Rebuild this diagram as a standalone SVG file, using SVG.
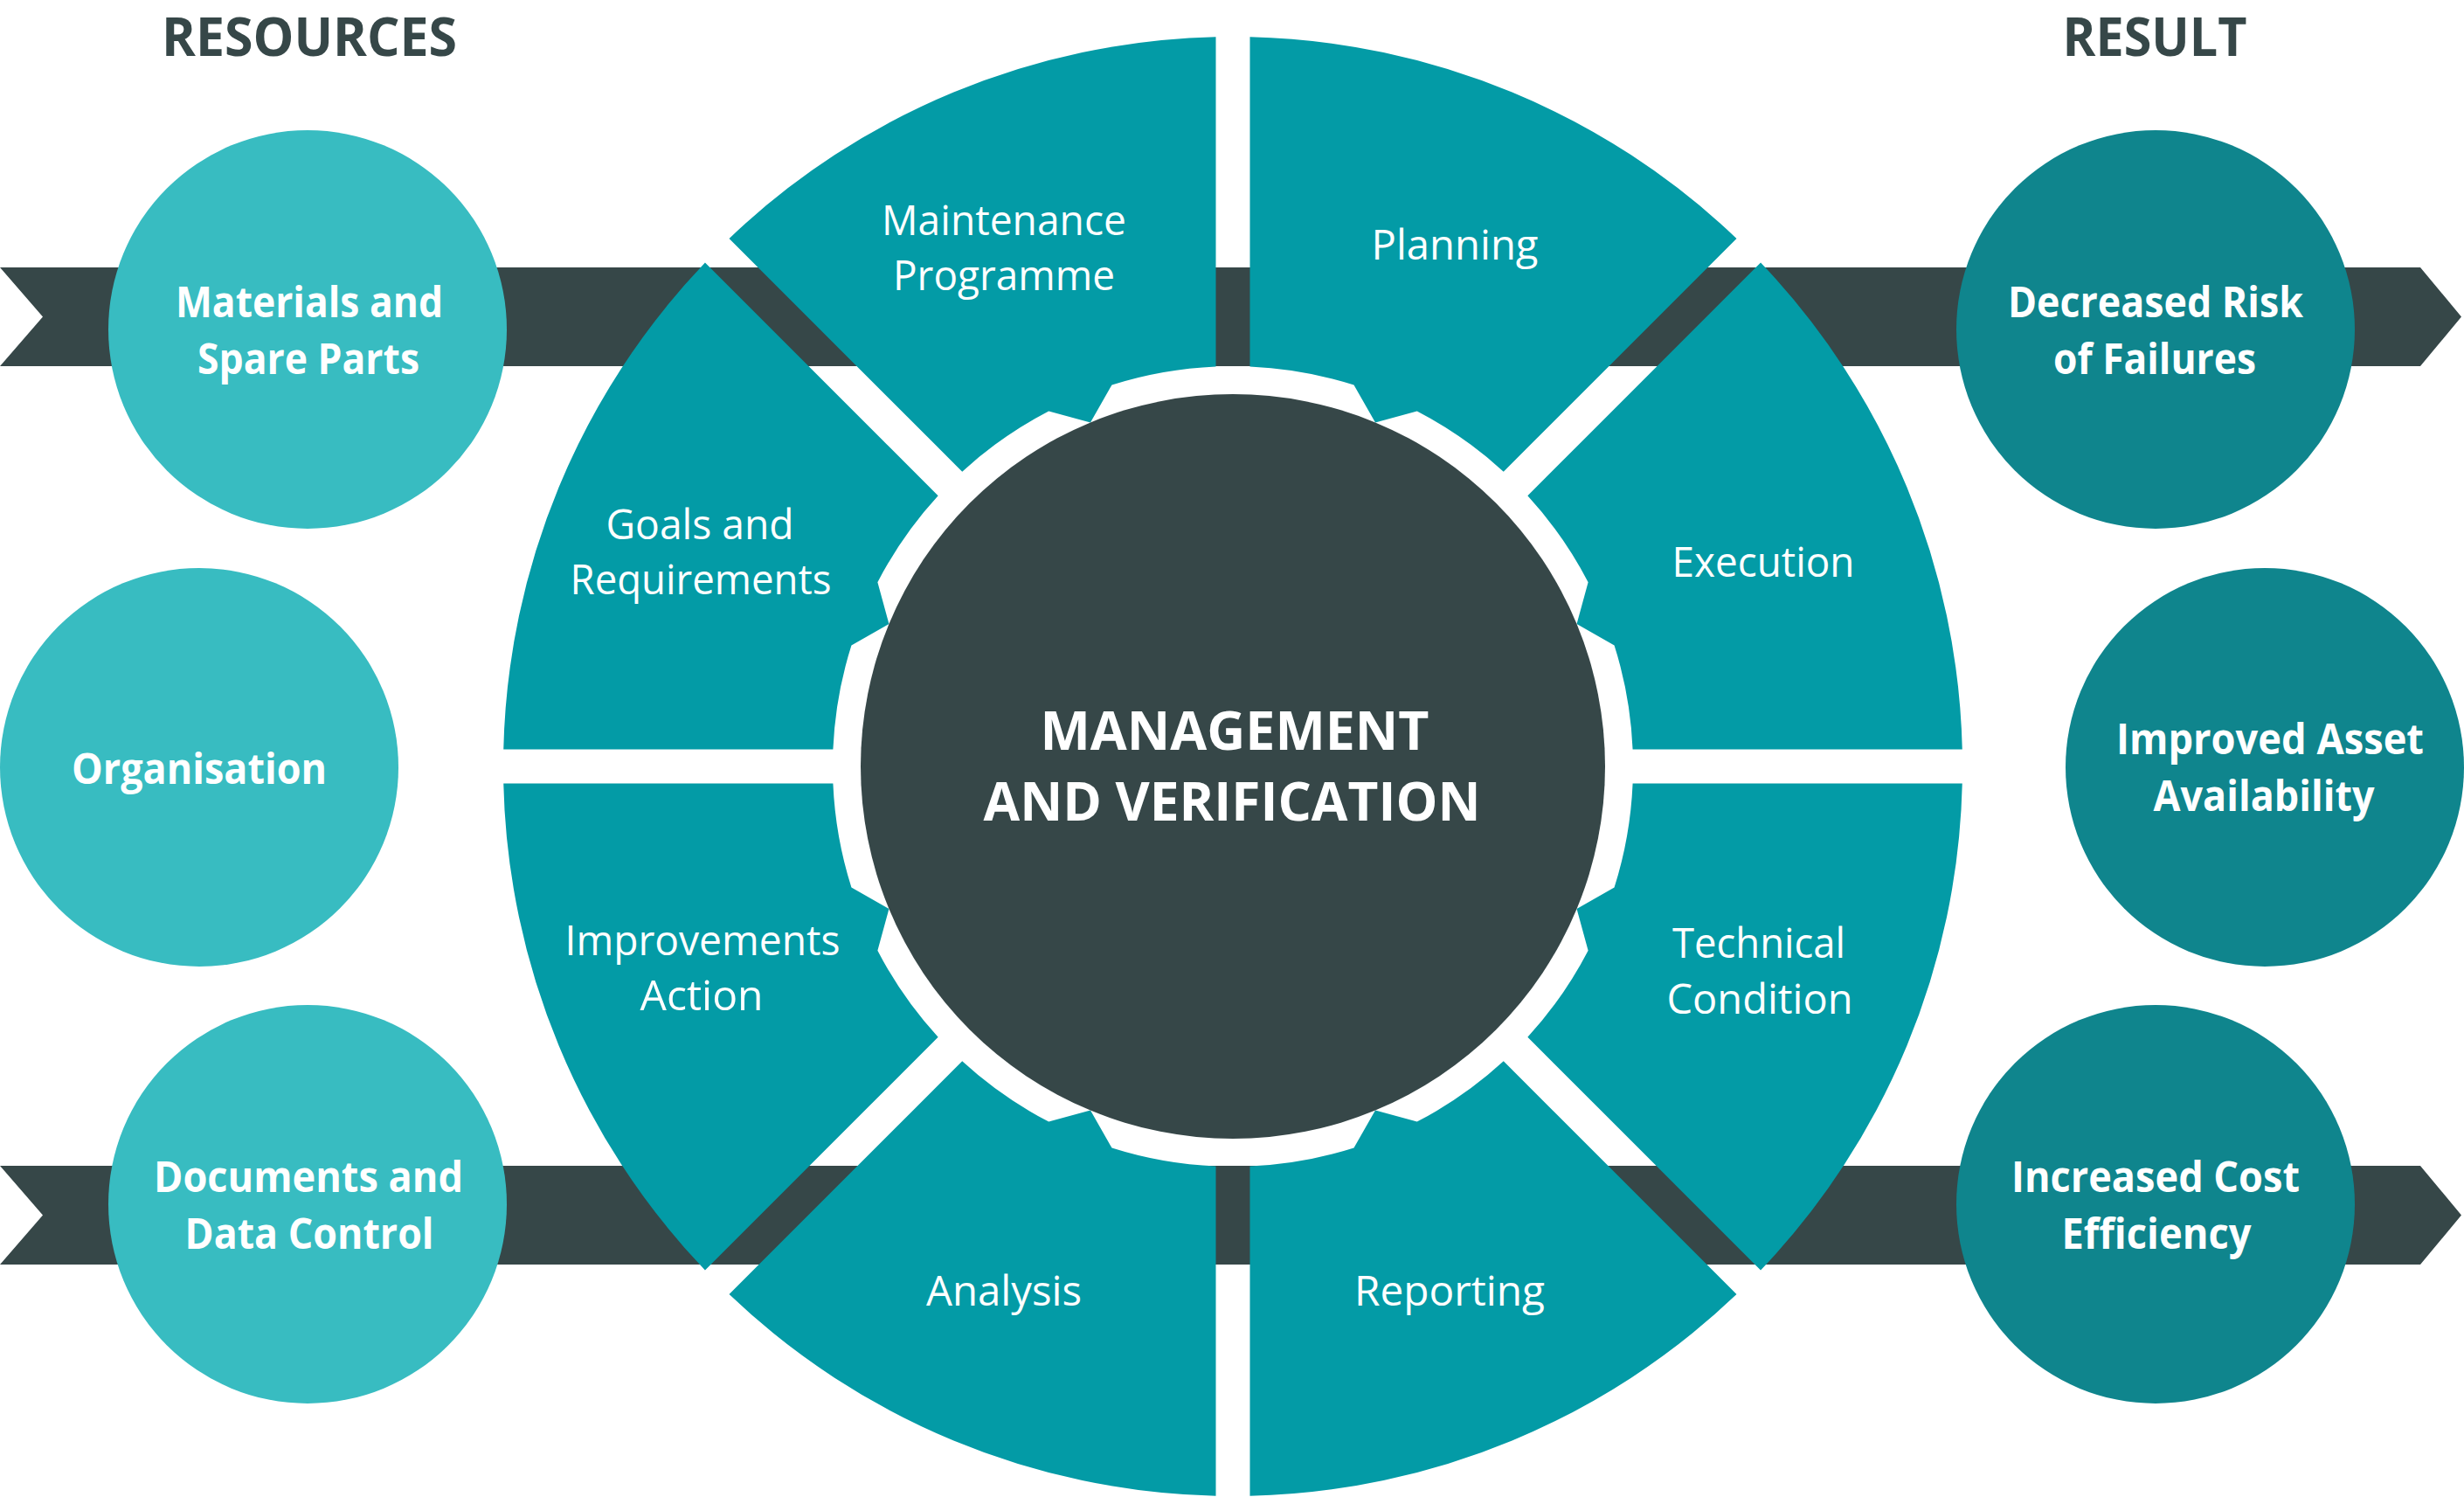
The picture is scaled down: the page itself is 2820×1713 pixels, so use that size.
<svg xmlns="http://www.w3.org/2000/svg" width="2820" height="1713" viewBox="0 0 2820 1713">
<style>
.band{fill:#364748}
.seg{fill:#039BA6}
.core{fill:#364748}
.res{fill:#38BCC1}
.out{fill:#0F858D}
text{font-family:"Open Sans","Noto Sans","DejaVu Sans",sans-serif;text-anchor:middle;fill:#ffffff}
.b{font-weight:700;font-size:49px}
.r{font-weight:500;font-size:48px}
.h{font-weight:700;font-size:60px;fill:#364748}
.c{font-weight:700;font-size:60px}
</style>
<rect width="2820" height="1713" fill="#ffffff"/>
<g id="connectors">
<polygon class="band" points="0,306 2770,306 2817,362.5 2770,419 0,419 49,362.5"/>
<polygon class="band" points="0,1334 2770,1334 2817,1390.5 2770,1447 0,1447 49,1390.5"/>
</g>
<g id="header-resources"><text class="h" x="354" y="64" textLength="338" lengthAdjust="spacingAndGlyphs">RESOURCES</text></g>
<g id="header-result"><text class="h" x="2466" y="64" textLength="211" lengthAdjust="spacingAndGlyphs">RESULT</text></g>
<g id="res-materials">
<circle class="res" cx="352" cy="377" r="228"/>
<text class="b" x="354" y="363" textLength="306" lengthAdjust="spacingAndGlyphs">Materials and</text>
<text class="b" x="353" y="428" textLength="254" lengthAdjust="spacingAndGlyphs">Spare Parts</text>
</g>
<g id="res-organisation">
<circle class="res" cx="228" cy="878" r="228"/>
<text class="b" x="228" y="897" textLength="292" lengthAdjust="spacingAndGlyphs">Organisation</text>
</g>
<g id="res-documents">
<circle class="res" cx="352" cy="1378" r="228"/>
<text class="b" x="353" y="1364" textLength="354" lengthAdjust="spacingAndGlyphs">Documents and</text>
<text class="b" x="354" y="1429" textLength="285" lengthAdjust="spacingAndGlyphs">Data Control</text>
</g>
<g id="out-risk">
<circle class="out" cx="2467" cy="377" r="228"/>
<text class="b" x="2467" y="363" textLength="338" lengthAdjust="spacingAndGlyphs">Decreased Risk</text>
<text class="b" x="2466" y="428" textLength="232" lengthAdjust="spacingAndGlyphs">of Failures</text>
</g>
<g id="out-availability">
<circle class="out" cx="2592" cy="878" r="228"/>
<text class="b" x="2598" y="863" textLength="352" lengthAdjust="spacingAndGlyphs">Improved Asset</text>
<text class="b" x="2591" y="928" textLength="253" lengthAdjust="spacingAndGlyphs">Availability</text>
</g>
<g id="out-cost">
<circle class="out" cx="2467" cy="1378" r="228"/>
<text class="b" x="2467" y="1364" textLength="330" lengthAdjust="spacingAndGlyphs">Increased Cost</text>
<text class="b" x="2468" y="1429" textLength="217" lengthAdjust="spacingAndGlyphs">Efficiency</text>
</g>
<g id="seg-planning">
<path class="seg" d="M1430.5,42.23 A835,835 0 0 1 1987.48,272.94 L1720.77,539.65 A458,458 0 0 0 1621.77,470.38 L1574.02,483.43 L1549.49,440.44 A458,458 0 0 0 1430.5,419.42 Z"/>
<text class="r" x="1665" y="297" textLength="191" lengthAdjust="spacingAndGlyphs">Planning</text>
</g>
<g id="seg-execution">
<path class="seg" d="M2015.06,300.52 A835,835 0 0 1 2245.77,857.5 L1868.59,857.5 A458,458 0 0 0 1847.56,738.51 L1804.57,713.98 L1817.62,666.23 A458,458 0 0 0 1748.35,567.23 Z"/>
<text class="r" x="2018" y="660" textLength="209" lengthAdjust="spacingAndGlyphs">Execution</text>
</g>
<g id="seg-technical">
<path class="seg" d="M2245.77,896.5 A835,835 0 0 1 2015.06,1453.48 L1748.35,1186.77 A458,458 0 0 0 1817.62,1087.77 L1804.57,1040.02 L1847.56,1015.49 A458,458 0 0 0 1868.59,896.5 Z"/>
<text class="r" x="2013" y="1096" textLength="198" lengthAdjust="spacingAndGlyphs">Technical</text>
<text class="r" x="2014" y="1160" textLength="213" lengthAdjust="spacingAndGlyphs">Condition</text>
</g>
<g id="seg-reporting">
<path class="seg" d="M1987.48,1481.06 A835,835 0 0 1 1430.5,1711.77 L1430.5,1334.58 A458,458 0 0 0 1549.49,1313.56 L1574.02,1270.57 L1621.77,1283.62 A458,458 0 0 0 1720.77,1214.35 Z"/>
<text class="r" x="1659" y="1494" textLength="218" lengthAdjust="spacingAndGlyphs">Reporting</text>
</g>
<g id="seg-analysis">
<path class="seg" d="M1391.5,1711.77 A835,835 0 0 1 834.52,1481.06 L1101.23,1214.35 A458,458 0 0 0 1200.23,1283.62 L1247.98,1270.57 L1272.51,1313.56 A458,458 0 0 0 1391.5,1334.58 Z"/>
<text class="r" x="1149" y="1494" textLength="178" lengthAdjust="spacingAndGlyphs">Analysis</text>
</g>
<g id="seg-improvements">
<path class="seg" d="M806.94,1453.48 A835,835 0 0 1 576.23,896.5 L953.41,896.5 A458,458 0 0 0 974.44,1015.49 L1017.43,1040.02 L1004.38,1087.77 A458,458 0 0 0 1073.65,1186.77 Z"/>
<text class="r" x="804" y="1093" textLength="315" lengthAdjust="spacingAndGlyphs">Improvements</text>
<text class="r" x="803" y="1156" textLength="141" lengthAdjust="spacingAndGlyphs">Action</text>
</g>
<g id="seg-goals">
<path class="seg" d="M576.23,857.5 A835,835 0 0 1 806.94,300.52 L1073.65,567.23 A458,458 0 0 0 1004.38,666.23 L1017.43,713.98 L974.44,738.51 A458,458 0 0 0 953.41,857.5 Z"/>
<text class="r" x="801" y="617" textLength="215" lengthAdjust="spacingAndGlyphs">Goals and</text>
<text class="r" x="802" y="680" textLength="299" lengthAdjust="spacingAndGlyphs">Requirements</text>
</g>
<g id="seg-maintenance">
<path class="seg" d="M834.52,272.94 A835,835 0 0 1 1391.5,42.23 L1391.5,419.42 A458,458 0 0 0 1272.51,440.44 L1247.98,483.43 L1200.23,470.38 A458,458 0 0 0 1101.23,539.65 Z"/>
<text class="r" x="1149" y="269" textLength="280" lengthAdjust="spacingAndGlyphs">Maintenance</text>
<text class="r" x="1149" y="332" textLength="254" lengthAdjust="spacingAndGlyphs">Programme</text>
</g>
<g id="core">
<circle class="core" cx="1411" cy="877" r="426"/>
<text class="c" x="1413" y="858" textLength="445" lengthAdjust="spacingAndGlyphs">MANAGEMENT</text>
<text class="c" x="1410" y="939" textLength="569" lengthAdjust="spacingAndGlyphs">AND VERIFICATION</text>
</g>
</svg>
